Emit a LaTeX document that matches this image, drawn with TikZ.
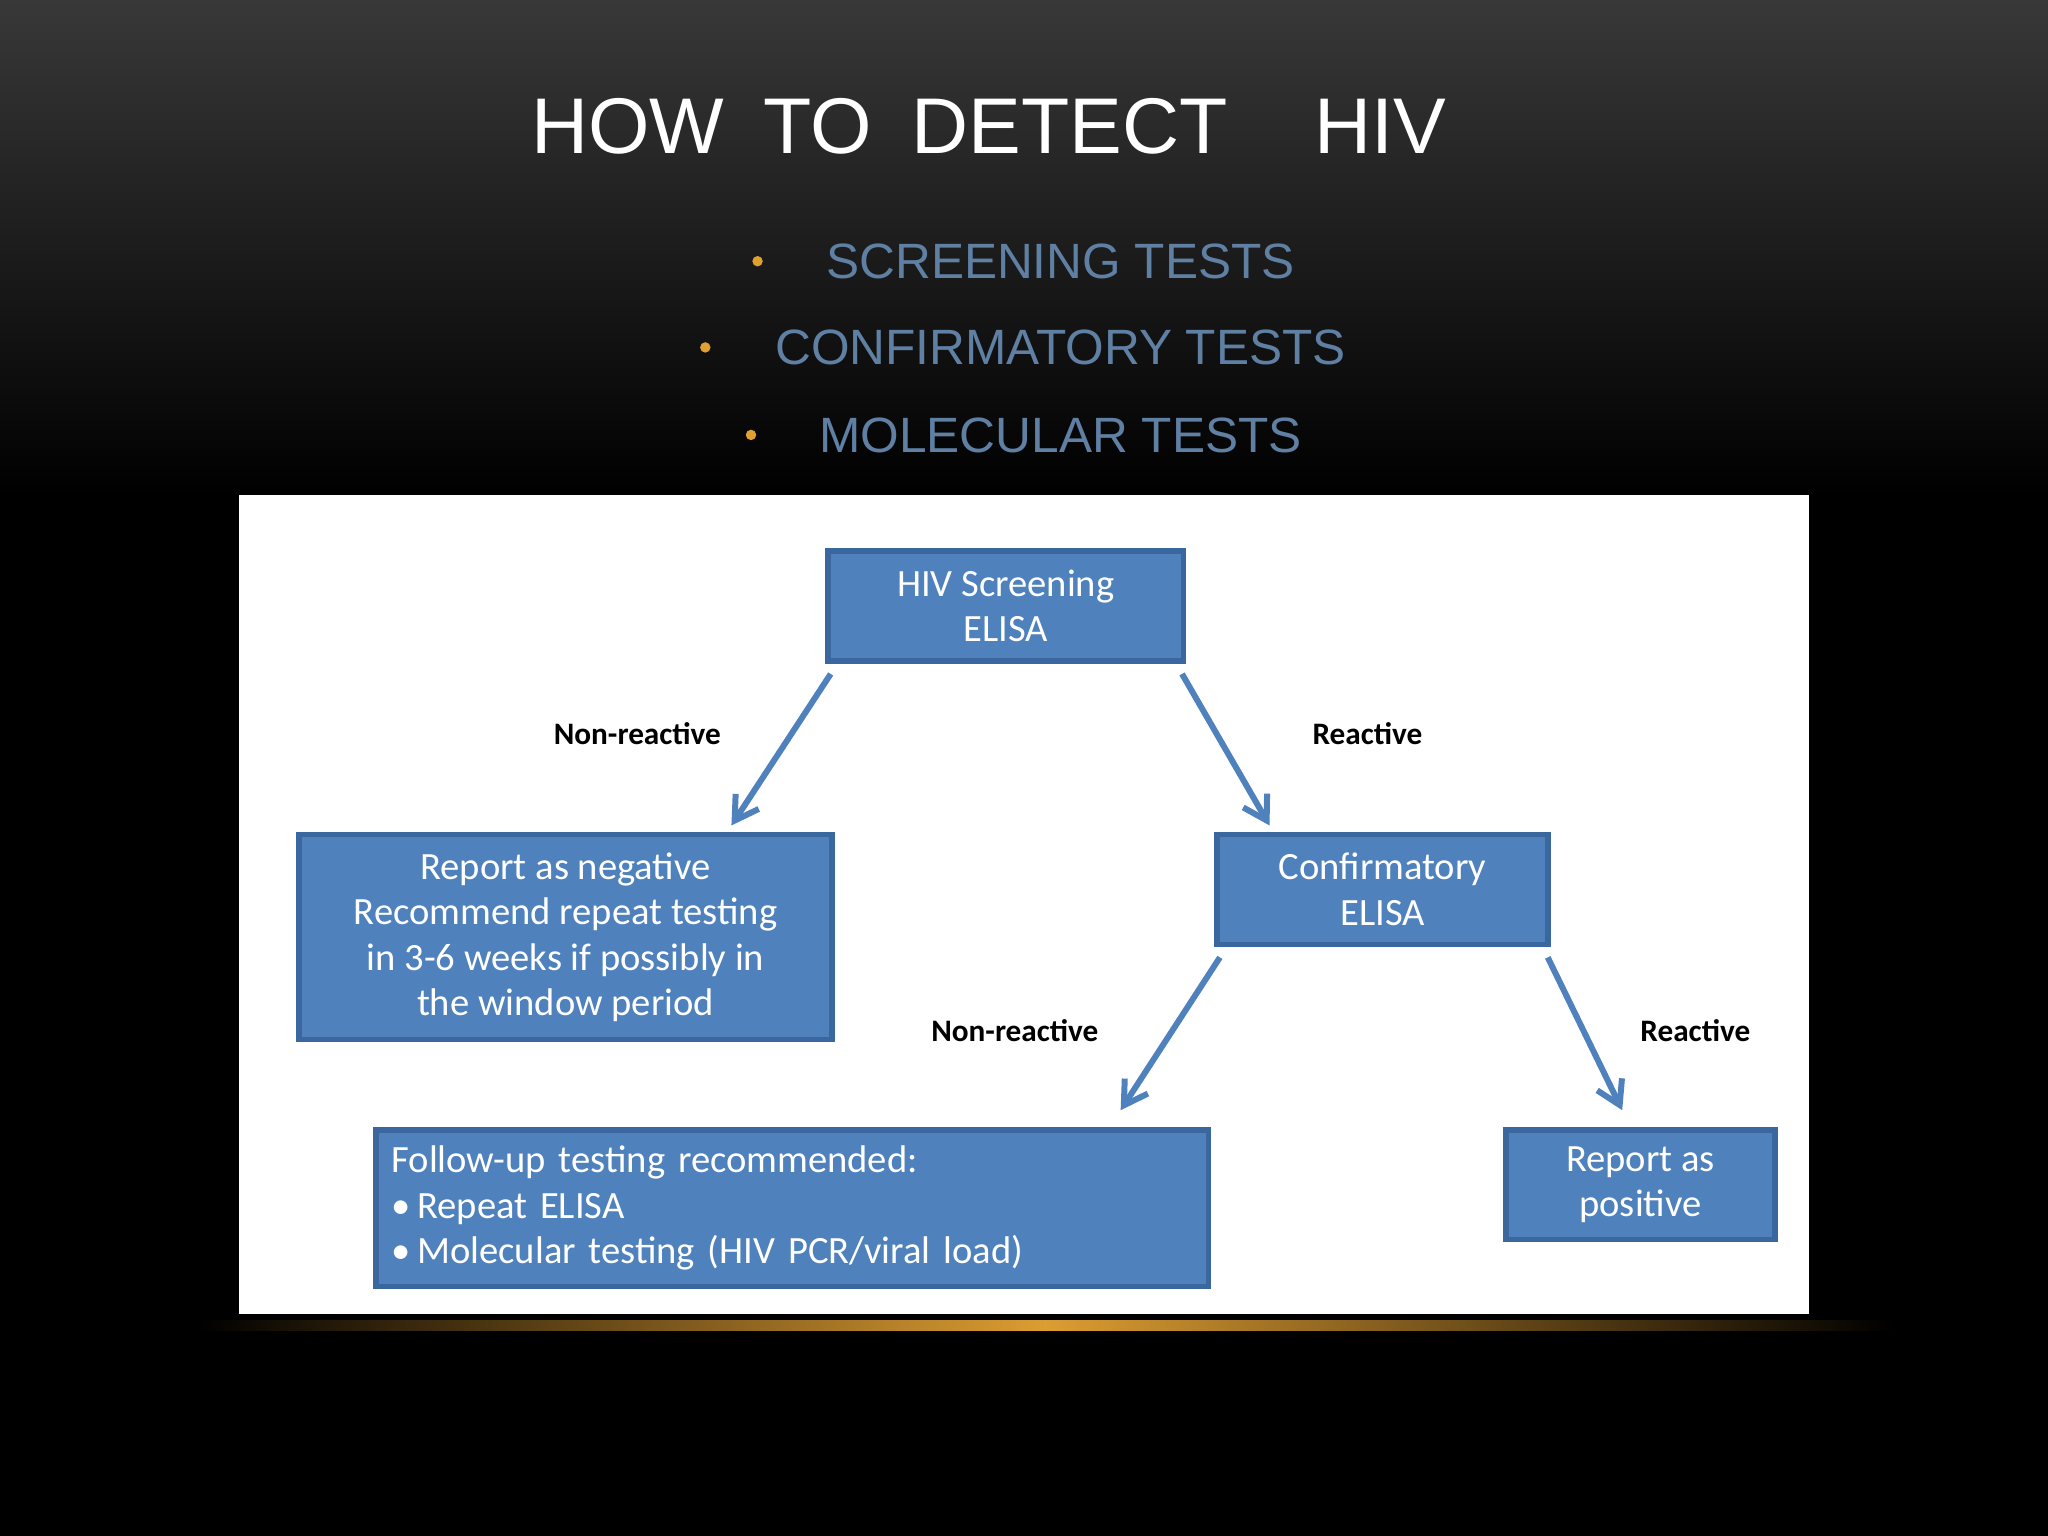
\documentclass[tikz,border=0pt]{standalone}
\usepackage{fontspec}
\setmainfont{Carlito}
\newfontfamily\titlefont{Liberation Sans}
\usetikzlibrary{arrows.meta}
\definecolor{boxblue}{HTML}{4F81BD}
\definecolor{boxedge}{HTML}{3A679E}
\definecolor{bultext}{HTML}{5F7FA3}
\definecolor{bulorange}{HTML}{E0A030}
\tikzset{
  x=0.01cm,y=-0.01cm,
  bx/.style={draw=boxedge,line width=1.2pt,fill=boxblue,text=white,font=\fontsize{8.4}{9.9}\selectfont,align=center,inner sep=0pt},
  arr/.style={draw=boxblue,line width=1.3pt,-{Straight Barb[length=5pt,width=6pt]}},
  lbl/.style={font=\fontsize{6.8}{8}\selectfont\bfseries,text=black},
  bul/.style={font=\titlefont\fontsize{10.8}{13}\selectfont,text=bultext},
}
\begin{document}
\begin{tikzpicture}
\useasboundingbox (0,0) rectangle (1568,1176);
\shade[top color=black!78,bottom color=black] (0,0) rectangle (1568,380);
\fill[black] (0,380) rectangle (1568,1176);
\node[text=white,font=\titlefont\fontsize{17.2}{20}\selectfont] (title) at (757,97) {HOW\hspace{0.5em}TO\hspace{0.5em}DETECT\hspace{1.1em}HIV};
\node[bul] (b1) at (812,200) {SCREENING TESTS};
\node[bul] (b2) at (812,266) {CONFIRMATORY TESTS};
\node[bul] (b3) at (812,333) {MOLECULAR TESTS};
\fill[bulorange] (580,200) circle (4) (540,266) circle (4) (575,333) circle (4);
\fill[white] (183,379) rectangle (1385,1006);
\shade[left color=black,right color=black,middle color=bulorange!90!brown] (150,1011) rectangle (1450,1019);
\node[bx,minimum width=2.72cm,minimum height=0.84cm] (scr) at (770,464) {HIV Screening\\ELISA};
\node[bx,minimum width=4.08cm,minimum height=1.57cm] (neg) at (433,717.5) {Report as negative\\Recommend repeat testing\\in 3-6 weeks if possibly in\\the window period};
\node[bx,minimum width=2.53cm,minimum height=0.84cm] (conf) at (1058.5,681) {Confirmatory\\ELISA};
\node[bx,minimum width=6.37cm,minimum height=1.2cm,align=left,text width=6.13cm] (fol) at (606.5,925) {Follow-up testing recommended:\\\textbullet\,Repeat ELISA\\\textbullet\,Molecular testing (HIV PCR/viral load)};
\node[bx,minimum width=2.06cm,minimum height=0.84cm] (pos) at (1256,907) {Report as\\positive};
\coordinate (a1) at (636,516); \coordinate (a2) at (560,632);
\coordinate (a3) at (905,516); \coordinate (a4) at (972,632);
\coordinate (a5) at (934,733); \coordinate (a6) at (858,850);
\coordinate (a7) at (1185,733); \coordinate (a8) at (1242,850);
\draw[arr] (a1) -- (a2);
\draw[arr] (a3) -- (a4);
\draw[arr] (a5) -- (a6);
\draw[arr] (a7) -- (a8);
\node[lbl] (l1) at (488,562) {Non-reactive};
\node[lbl] (l2) at (1047,562) {Reactive};
\node[lbl] (l3) at (777,789) {Non-reactive};
\node[lbl] (l4) at (1298,789) {Reactive};
\end{tikzpicture}
\end{document}
